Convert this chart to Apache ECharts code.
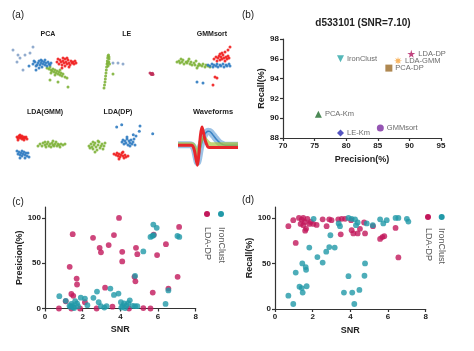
<!DOCTYPE html>
<html>
<head>
<meta charset="utf-8">
<script src="https://cdn.jsdelivr.net/npm/echarts@6/dist/echarts.min.js"></script>
<style>
html, body { margin: 0; padding: 0; background: #fff; }
#main { width: 474px; height: 351px; }
</style>
</head>
<body>
<div id="main"></div>
<script>
// ---------- panel (a): cluster points (local units of each small plot) ----------
var pcaBlue = [[28,28],[30,30],[31,26],[33,29],[34,31],[35,27],[36,29],[37,25],[37,31],[38,28],[39,30],[40,27],[41,29],[42,26],[43,30],[44,28],[45,27],[32,27],[36,32],[40,32],[34,24],[29,31],[46,29],[24,26],[31,22]]
var pcaRed = [[52,30],[54,28],[55,32],[56,30],[57,27],[58,31],[59,29],[60,33],[60,26],[61,30],[62,28],[63,32],[64,29],[65,27],[66,31],[67,29],[68,30],[69,28],[70,31],[58,34],[62,34],[64,25],[71,29],[57,24],[53,33]]
var pcaGreen = [[42,24],[44,23],[45,25],[46,22],[47,21],[48,23],[49,20],[50,22],[51,19],[52,21],[53,18],[54,20],[55,17],[56,19],[57,16],[58,18],[60,15],[62,14],[46,19],[50,17],[55,22],[45,12],[53,10],[63,5]]
var pcaOut = [[8,42],[13,37],[20,37],[25,39],[28,45],[12,30],[15,34],[18,22]]

var leGreen = [[14,4],[14.5,7],[15,10],[15.3,13],[15.6,16],[16,19],[16.3,22],[16.6,25],[17,28],[17.3,31],[17.7,34],[18,36],[18.5,37],[19,33],[18.8,30],[19.5,28],[18,26],[19,35],[17.5,29],[23,18]]
var leRed = [[60,19],[61,18.5],[62,18],[63,17.5],[61.5,17.5],[62.5,18.8]]
var leOut = [[23,29],[28,29],[33,28]]

var gmmGreen = [[7,30],[9,31],[10,29],[12,30],[13,32],[14,28],[16,30],[17,29],[18,31],[20,28],[21,30],[22,27],[24,29],[25,27],[26,31],[28,26],[29,28],[30,27],[32,26],[33,28],[35,25],[36,27],[38,26],[40,25],[11,33],[19,33],[27,24]]
var gmmRed = [[44,33],[46,35],[47,31],[48,34],[49,36],[50,32],[51,35],[52,33],[53,37],[54,34],[55,31],[56,35],[57,33],[58,36],[59,34],[52,39],[55,40],[58,42],[60,45],[50,38],[45,15],[47,14],[43,7]]
var gmmBlue = [[38,27],[40,26],[42,28],[43,25],[44,27],[46,26],[47,28],[48,25],[50,27],[51,26],[53,28],[54,25],[56,27],[57,26],[59,28],[60,26],[27,10],[33,9]]

var ldaGmmRed = [[12,31],[13,30],[14,32],[15,30],[16,31],[17,29],[17,32],[18,30],[19,31],[20,30],[21,31],[15,33],[19,28],[13,28],[22,29]]
var ldaGmmBlue = [[13,14],[14,16],[15,13],[16,15],[17,12],[18,14],[19,16],[20,13],[21,15],[22,12],[17,17],[15,10],[20,10],[12,17],[23,15],[24,11]]
var ldaGmmGreen = [[35,24],[37,22],[38,25],[40,23],[41,21],[42,24],[43,26],[44,22],[45,24],[46,21],[47,25],[48,23],[49,22],[50,24],[51,26],[52,22],[53,24],[54,23],[55,21],[56,24],[58,23],[40,26],[48,27],[33,22],[60,24]]

var ldaDpGreen = [[4,22],[5,20],[6,24],[7,21],[8,19],[9,23],[10,25],[11,21],[12,18],[13,23],[14,26],[15,20],[16,22],[17,24],[18,19],[19,22],[10,16],[13,27],[8,26],[20,25]]
var ldaDpBlue = [[37,26],[38,28],[39,24],[40,27],[41,25],[42,29],[43,23],[44,27],[45,25],[46,28],[47,24],[48,26],[49,29],[42,31],[45,22],[50,23],[31.7,41],[36.7,43.3],[55,42],[54.3,36.7],[67.7,34.3],[48.3,33.3],[51,32]]
var ldaDpRed = [[29,14],[31,13],[32,15],[33,12],[34,14],[35,11],[36,13],[37,15],[38,12],[39,10],[40,13],[41,11],[43,12],[34,9],[38,16]]

// waveforms (41 samples)
var waveBlue = [0.02,0.02,0.02,0.02,0.02,0.02,0.02,0.02,0.02,0.01,-0.05,-0.2,-0.5,-0.75,-0.5,-0.1,0.15,0.35,0.5,0.58,0.62,0.61,0.56,0.48,0.4,0.31,0.23,0.16,0.1,0.06,0.03,0.01,0,0,0,0,0,0,0,0,0]
var waveGreen = [0.05,0.05,0.05,0.05,0.05,0.05,0.05,0.05,0.05,0.05,0.03,-0.1,-0.3,-0.4,-0.15,0.15,0.3,0.33,0.28,0.2,0.12,0.07,0.04,0.04,0.04,0.04,0.04,0.04,0.04,0.04,0.04,0.04,0.04,0.04,0.04,0.04,0.04,0.04,0.04,0.04,0.04]
var waveRed = [0,0,0,0,0,0,0,0,0,0,-0.05,-0.25,-0.6,-0.88,-0.3,0.45,0.8,0.55,0.25,0.05,-0.08,-0.1,-0.1,-0.1,-0.1,-0.1,-0.1,-0.1,-0.1,-0.1,-0.1,-0.1,-0.1,-0.1,-0.1,-0.1,-0.1,-0.1,-0.1,-0.1,-0.1]

// ---------- panel (b) ----------
var bMethods = ['IronClust', 'LDA-DP', 'LDA-GMM', 'PCA-DP', 'PCA-Km', 'LE-Km', 'GMMsort']
var bPrecision = [79.1, 90.3, 88.2, 86.75, 75.6, 79.1, 85.4]
var bRecall = [96.0, 96.5, 95.8, 95.06, 90.4, 88.5, 89.0]

// ---------- panel (c): precision vs SNR ----------
var cLdaDp = [[3.93,100],[1.47,82],[2.55,78],[3.66,81],[2.9,67],[2.97,62],[3.38,70],[4.1,62.5],[4.1,52],[4.83,67],[4.9,60],[5.95,59],[1.31,46],[1.68,33],[1.7,26.5],[1.4,16],[1.5,14],[3.19,23],[4.75,35],[4.8,30],[5.72,17.6],[0.74,0],[1.4,0],[1.86,0],[2.74,0],[3.58,2],[4.46,0],[5.22,0.5],[5.6,0],[2.12,7],[1.1,8],[6.55,22],[7.04,35],[6.42,71],[7.12,90],[5.77,81.5]]
var cIronClust = [[5.75,92.6],[5.93,89],[5.6,79],[5.7,80],[5.77,81],[7.03,80],[7.13,79],[5.22,63],[4.78,36],[6.55,20],[6.4,5],[0.76,13.6],[1.1,8.5],[1.4,5],[1.45,3],[1.5,1.5],[1.55,0.5],[1.35,1.8],[1.7,5.5],[1.75,2.6],[1.3,3],[1.6,8],[1.9,12],[2.12,11],[2.25,3.7],[2.57,11.8],[2.76,18.7],[2.85,7],[2.97,2.6],[3.15,1],[3.27,2.6],[3.47,22],[3.66,15],[3.9,16.5],[4.03,7],[4.12,2.6],[4.2,5.5],[4.33,3.3],[4.42,6],[4.5,9],[4.65,3],[4.78,2.6],[4.9,2.6],[4.05,1],[4.25,0.5]]

// ---------- panel (d): recall vs SNR ----------
var dLdaDp = [[0.71,91],[0.97,97.5],[1.1,72.6],[1.27,100],[1.42,98],[1.5,100],[1.36,93.4],[1.5,92],[1.59,95.6],[1.65,88],[1.72,99],[1.82,93.4],[1.9,95.6],[2.03,93.4],[2.21,92.3],[2.53,98.5],[2.74,91],[2.88,98.5],[3.0,97.5],[3.36,98.5],[3.54,99],[3.49,82],[3.72,99],[4.04,97.5],[4.07,86.5],[4.16,83],[4.39,83],[4.51,88],[4.78,83],[4.73,95],[5.58,77],[5.7,79],[5.8,80],[6.4,89],[6.55,56.6],[5.2,91],[1.6,86]]
var dIronClust = [[0.71,14.6],[0.97,5.5],[1.1,40],[1.3,24.5],[1.42,23],[1.47,18],[1.45,50],[1.63,46],[1.65,43],[1.68,25],[1.82,67.5],[2.05,99],[2.25,57],[2.53,51],[2.72,63],[2.88,68],[2.94,81],[3.17,67.5],[3.38,94],[3.45,91],[3.66,18],[3.9,36],[4.1,18],[4.48,21],[4.21,5.5],[4.75,36.5],[4.78,50],[4.07,99],[4.25,98.5],[4.39,95],[4.87,94],[5.19,92],[5.58,98.5],[5.75,94],[5.93,97.5],[6.4,100],[6.55,100],[7.0,99],[7.08,96],[3.9,100],[4.3,92]]

// ---------- styles ----------
var FONT = 'Arial, "Liberation Sans", sans-serif'
var BLUE = '#2f7bc1', RED = '#f01e1e', GREEN = '#7fb33a', GRAY = '#86a3c9'
var MAGENTA = '#c2185b', TEAL = '#2199a8'
var STAR = 'path://M50,0 L61,35 L98,35 L68,57 L79,91 L50,70 L21,91 L32,57 L2,35 L39,35 Z'
var BURST = 'path://M50,0 L58,30 L85,15 L70,42 L100,50 L70,58 L85,85 L58,70 L50,100 L42,70 L15,85 L30,58 L0,50 L30,42 L15,15 L42,30 Z'
var bStyle = {
  'IronClust': { symbol: 'triangle', rotate: 180, size: 7, color: '#2aa6a8' },
  'LDA-DP': { symbol: STAR, rotate: 0, size: 8, color: '#b0175f' },
  'LDA-GMM': { symbol: BURST, rotate: 0, size: 8, color: '#f6a23a' },
  'PCA-DP': { symbol: 'rect', rotate: 0, size: 7, color: '#9b6a26' },
  'PCA-Km': { symbol: 'triangle', rotate: 0, size: 7, color: '#1f6b2c' },
  'LE-Km': { symbol: 'diamond', rotate: 0, size: 7, color: '#2b2bb0' },
  'GMMsort': { symbol: 'circle', rotate: 0, size: 7, color: '#7a2aa0' }
}

var chart = echarts.init(document.getElementById('main'))

function hiddenAxis (max) {
  return { type: 'value', show: false, min: 0, max: max }
}
function cloud (idx, data, color) {
  return { type: 'scatter', xAxisIndex: idx, yAxisIndex: idx, data: data, symbolSize: 3,
    itemStyle: { color: color, opacity: 0.9 }, silent: true }
}
function wave (data, color, width, opacity) {
  return { type: 'line', xAxisIndex: 5, yAxisIndex: 5, showSymbol: false, smooth: 0.3,
    data: data.map(function (v, i) { return [i, v] }),
    lineStyle: { color: color, width: width, opacity: opacity }, silent: true }
}
function txt (x, y, s, font, fill) {
  return { type: 'text', x: x, y: y, silent: true,
    style: { text: s, font: font, fill: fill || '#222', textAlign: 'center', textVerticalAlign: 'middle', align: 'center', verticalAlign: 'middle' } }
}
function vtxt (x, y, s) {
  return { type: 'text', x: x, y: y, rotation: -Math.PI / 2, silent: true,
    style: { text: s, font: '9px ' + FONT, fill: '#555', textAlign: 'left', textVerticalAlign: 'middle', align: 'left', verticalAlign: 'middle' } }
}
var axisLine = { show: true, lineStyle: { color: '#333', width: 1.2 } }
var axisTick = { show: true, length: 3, lineStyle: { color: '#333', width: 1.2 } }
var tickLabel = { color: '#222', fontSize: 8, fontWeight: 'bold', fontFamily: FONT, margin: 4 }
var nameStyle = { color: '#222', fontSize: 9, fontWeight: 'bold', fontFamily: FONT }

function snrX (idx) {
  return { type: 'value', gridIndex: idx, min: 0, max: 8, interval: 2, name: 'SNR',
    nameLocation: 'middle', nameGap: 17, nameTextStyle: nameStyle,
    axisLine: axisLine, axisTick: axisTick, axisLabel: tickLabel, splitLine: { show: false } }
}
function pctY (idx, name) {
  return { type: 'value', gridIndex: idx, min: 0, max: 112, name: name,
    nameLocation: 'middle', nameGap: 21, nameTextStyle: nameStyle,
    axisLine: axisLine,
    axisTick: Object.assign({ customValues: [0, 50, 100] }, axisTick),
    axisLabel: Object.assign({ customValues: [0, 50, 100] }, tickLabel),
    splitLine: { show: false } }
}

var bData = bMethods.map(function (m, i) {
  var s = bStyle[m]
  return { name: m, value: [bPrecision[i], bRecall[i]], symbol: s.symbol, symbolSize: s.size,
    symbolRotate: s.rotate, itemStyle: { color: s.color } }
})

var option = {
  animation: false,
  textStyle: { fontFamily: FONT },
  grid: [
    { left: 5, top: 42, width: 80, height: 50 },
    { left: 90, top: 42, width: 75, height: 50 },
    { left: 170, top: 42, width: 68, height: 50 },
    { left: 5, top: 118, width: 75, height: 50 },
    { left: 85, top: 118, width: 75, height: 50 },
    { left: 178, top: 118, width: 60, height: 50 },
    { left: 283, top: 39, width: 158, height: 99 },
    { left: 45, top: 207, width: 150.7, height: 101.5 },
    { left: 275, top: 207, width: 150.7, height: 102 }
  ],
  xAxis: [
    Object.assign({ gridIndex: 0 }, hiddenAxis(80)),
    Object.assign({ gridIndex: 1 }, hiddenAxis(75)),
    Object.assign({ gridIndex: 2 }, hiddenAxis(68)),
    Object.assign({ gridIndex: 3 }, hiddenAxis(75)),
    Object.assign({ gridIndex: 4 }, hiddenAxis(75)),
    Object.assign({ gridIndex: 5 }, hiddenAxis(40)),
    { type: 'value', gridIndex: 6, min: 70, max: 95, interval: 5, name: 'Precision(%)',
      nameLocation: 'middle', nameGap: 17, nameTextStyle: nameStyle,
      axisLine: axisLine, axisTick: axisTick, axisLabel: tickLabel, splitLine: { show: false } },
    snrX(7),
    snrX(8)
  ],
  yAxis: [
    Object.assign({ gridIndex: 0 }, hiddenAxis(50)),
    Object.assign({ gridIndex: 1 }, hiddenAxis(50)),
    Object.assign({ gridIndex: 2 }, hiddenAxis(50)),
    Object.assign({ gridIndex: 3 }, hiddenAxis(50)),
    Object.assign({ gridIndex: 4 }, hiddenAxis(50)),
    { type: 'value', gridIndex: 5, show: false, min: -1, max: 1.2 },
    { type: 'value', gridIndex: 6, min: 88, max: 98, interval: 2, name: 'Recall(%)',
      nameLocation: 'middle', nameGap: 15, nameTextStyle: nameStyle,
      axisLine: axisLine, axisTick: axisTick, axisLabel: tickLabel, splitLine: { show: false } },
    pctY(7, 'Presicion(%)'),
    pctY(8, 'Recall(%)')
  ],
  series: [
    cloud(0, pcaOut, GRAY), cloud(0, pcaGreen, GREEN), cloud(0, pcaBlue, BLUE), cloud(0, pcaRed, RED),
    cloud(1, leOut, GRAY), cloud(1, leGreen, GREEN), cloud(1, leRed, '#c0305a'),
    cloud(2, gmmGreen, GREEN), cloud(2, gmmBlue, BLUE), cloud(2, gmmRed, RED),
    cloud(3, ldaGmmRed, RED), cloud(3, ldaGmmBlue, BLUE), cloud(3, ldaGmmGreen, GREEN),
    cloud(4, ldaDpGreen, GREEN), cloud(4, ldaDpBlue, BLUE), cloud(4, ldaDpRed, RED),
    wave(waveBlue, '#4a90d0', 7, 0.55), wave(waveBlue, '#2f7bc1', 1.5, 0.9),
    wave(waveGreen, '#a8c43c', 4, 0.7),
    wave(waveRed, '#e8262b', 3, 1),
    { type: 'scatter', xAxisIndex: 6, yAxisIndex: 6, data: bData,
      label: { show: true, position: 'right', distance: 3, formatter: '{b}',
        fontSize: 7.5, color: '#444', fontFamily: FONT } },
    { type: 'scatter', xAxisIndex: 7, yAxisIndex: 7, data: cLdaDp, symbolSize: 5.8, itemStyle: { color: MAGENTA } },
    { type: 'scatter', xAxisIndex: 7, yAxisIndex: 7, data: cIronClust, symbolSize: 5.8, itemStyle: { color: TEAL } },
    { type: 'scatter', xAxisIndex: 8, yAxisIndex: 8, data: dLdaDp, symbolSize: 5.8, itemStyle: { color: MAGENTA } },
    { type: 'scatter', xAxisIndex: 8, yAxisIndex: 8, data: dIronClust, symbolSize: 5.8, itemStyle: { color: TEAL } }
  ],
  graphic: [
    txt(18, 15, '(a)', '10px ' + FONT),
    txt(248, 15, '(b)', '10px ' + FONT),
    txt(18, 202, '(c)', '10px ' + FONT),
    txt(248, 200, '(d)', '10px ' + FONT),
    txt(48, 34, 'PCA', 'bold 7px ' + FONT),
    txt(126.7, 34, 'LE', 'bold 7px ' + FONT),
    txt(212, 34, 'GMMsort', 'bold 7px ' + FONT),
    txt(45, 112, 'LDA(GMM)', 'bold 7px ' + FONT),
    txt(118, 112, 'LDA(DP)', 'bold 7px ' + FONT),
    txt(213, 112, 'Waveforms', 'bold 7.5px ' + FONT),
    txt(363, 23, 'd533101 (SNR=7.10)', 'bold 10px ' + FONT),
    { type: 'circle', shape: { cx: 207, cy: 214, r: 3 }, style: { fill: MAGENTA }, silent: true },
    { type: 'circle', shape: { cx: 221, cy: 214, r: 3 }, style: { fill: TEAL }, silent: true },
    vtxt(207, 227, 'LDA-DP'),
    vtxt(221, 227, 'IronClust'),
    { type: 'circle', shape: { cx: 428, cy: 217, r: 3 }, style: { fill: MAGENTA }, silent: true },
    { type: 'circle', shape: { cx: 441.7, cy: 217, r: 3 }, style: { fill: TEAL }, silent: true },
    vtxt(428, 228, 'LDA-DP'),
    vtxt(441.7, 228, 'IronClust')
  ]
}

chart.setOption(option)
</script>
</body>
</html>
